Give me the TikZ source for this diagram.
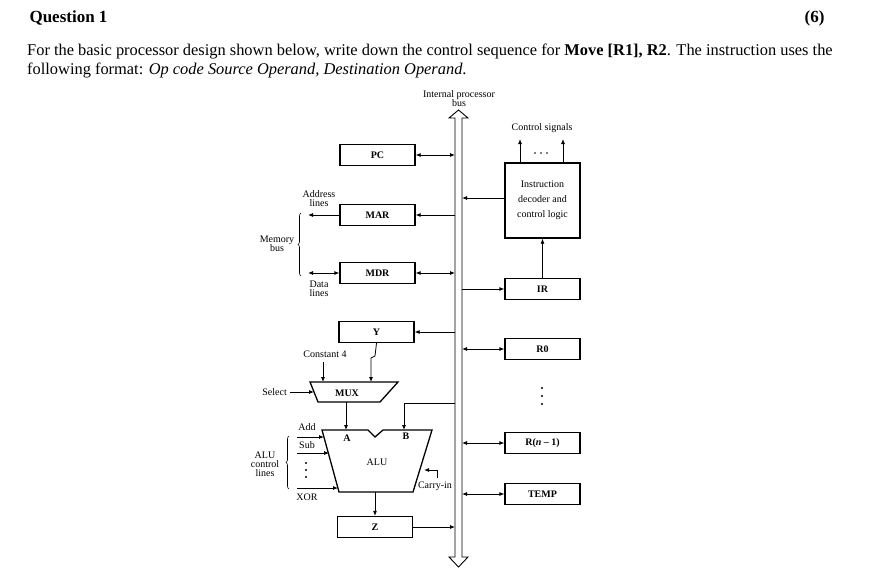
\documentclass[tikz,border=0pt]{standalone}
\usepackage{fontspec}
\setmainfont{Liberation Serif}
\usetikzlibrary{arrows.meta,decorations.pathreplacing}
\begin{document}
\begin{tikzpicture}[x=1pt,y=-1pt,
  reg/.style={draw,line width=1.3pt,minimum width=75pt,minimum height=21pt,inner sep=0pt,font=\fontsize{10}{11}\selectfont\bfseries},
  lbl/.style={font=\fontsize{10}{10}\selectfont,inner sep=0pt,align=center},
  ar/.style={-{Latex[length=5pt,width=4pt]},line width=0.8pt},
  dar/.style={{Latex[length=5pt,width=4pt]}-{Latex[length=5pt,width=4pt]},line width=0.8pt}]
\path[use as bounding box] (0,0) rectangle (873,573);
\node[anchor=west,font=\fontsize{17}{18}\selectfont\bfseries] (q) at (26,18) {Question 1};
\node[anchor=east,font=\fontsize{17}{18}\selectfont\bfseries] (pts) at (828,18) {(6)};
\node[anchor=west,font=\fontsize{16.4}{18}\selectfont,inner sep=0pt] (l1) at (27,51) {For the basic processor design shown below, write down the control sequence for \textbf{Move [R1], R2}. The instruction uses the};
\node[anchor=west,font=\fontsize{16.4}{18}\selectfont,inner sep=0pt] (l2) at (27,70) {following format: \textit{Op code Source Operand, Destination Operand}.};
% bus
\draw[line width=0.9pt] (455,118)--(449,118)--(458.5,110)--(468,118)--(462,118)--(462,557)--(468,557)--(458.5,567)--(449,557)--(455,557)--cycle;
\node[lbl] (busl) at (459,99) {Internal processor\\[-1pt]bus};
\coordinate (bl) at (455,0); \coordinate (br) at (462,0);
% left registers
\node[reg] (pc) at (377.5,155) {PC};
\node[reg] (mar) at (377.5,215) {MAR};
\node[reg] (mdr) at (377.5,273) {MDR};
\node[reg] (y) at (376.5,332) {Y};
\node[reg] (z) at (375,527) {Z};
\draw[dar] (pc.east) -- (bl|-pc.east);
\draw[ar] (bl|-mar.east) -- (mar.east);
\draw[dar] (mdr.east) -- (bl|-mdr.east);
\draw[ar] (bl|-y.east) -- (y.east);
\draw[ar] (z.east) -- (bl|-z.east);
\coordinate (addr) at (308,215); \coordinate (data) at (308,273);
\draw[ar] (mar.west) -- (addr);
\draw[dar] (mdr.west) -- (data);
\node[lbl] (addrl) at (319,199) {Address\\[-1pt]lines};
\node[lbl] (datal) at (319,289) {Data\\[-1pt]lines};
\draw[decorate,decoration={brace,amplitude=3pt},line width=0.6pt] (301,276) -- (301,213);
\node[lbl] (memb) at (277,244) {Memory\\[-1pt]bus};
% MUX
\draw[line width=1.3pt] (310,382)--(398,382)--(380,402)--(318,402)--cycle;
\node[lbl,font=\fontsize{10}{10}\selectfont\bfseries] (mux) at (347,393) {MUX};
\node[lbl] (c4) at (325,354) {Constant 4};
\draw[ar] (323,362) -- (323,382);
\draw[ar] (y.south) -- (375,356) -- (371,358) -- (371,382);
\coordinate (sel) at (290,392);
\node[lbl,anchor=east] (sell) at (287,392) {Select};
\draw[ar] (sel) -- (314,392);
% ALU
\draw[line width=1.3pt] (322,430)--(368,430)--(375,437)--(383,430)--(432,430)--(413,492)--(339,492)--cycle;
\node[lbl,font=\fontsize{10}{10}\selectfont\bfseries] (A) at (347,438) {A};
\node[lbl,font=\fontsize{10}{10}\selectfont\bfseries] (B) at (406,436) {B};
\node[lbl] (alu) at (377,462) {ALU};
\draw[ar] (346,402) -- (346,430);
\draw[ar] (bl|-0,403) -- (404,403) -- (404,430);
\draw[ar] (297,437) -- (324,437);
\draw[ar] (297,453) -- (329,453);
\draw[ar] (297,488) -- (338,488);
\node[lbl] (add) at (307,427) {Add};
\node[lbl] (sub) at (307,445) {Sub};
\node[lbl] (xor) at (307,497) {XOR};
\foreach \yy in {463,470,477} \fill (306,\yy) circle (1.1pt);
\draw[decorate,decoration={brace,amplitude=3pt},line width=0.6pt] (289,489) -- (289,436);
\node[lbl] (acl) at (265,464) {ALU\\[-1pt]control\\[-1pt]lines};
\draw[ar] (437,478) -- (437,470) -- (424,470);
\node[lbl] (cin) at (435,486) {Carry-in};
\draw[ar] (375,492) -- (z.north);
% right side
\node[draw,line width=1.3pt,minimum width=75pt,minimum height=75pt,inner sep=0pt,lbl] (dec) at (542.5,200.5) {Instruction\\[5pt]decoder and\\[5pt]control logic};
\node[lbl] (cs) at (542,128) {Control signals};
\draw[ar] (520,163) -- (520,139);
\draw[ar] (563,163) -- (563,139);
\foreach \xx in {535,541,547} \fill (\xx,153) circle (0.9pt);
\draw[ar] (dec.west|-0,198) -- (br|-0,198);
\node[reg] (ir) at (542.5,289) {IR};
\node[reg] (r0) at (542.5,349) {R0};
\node[reg] (rn) at (542.5,443) {R(\textit{n} -- 1)};
\node[reg] (temp) at (542.5,494) {TEMP};
\draw[ar] (ir.north) -- (dec.south);
\draw[ar] (br|-ir.west) -- (ir.west);
\draw[dar] (br|-r0.west) -- (r0.west);
\draw[dar] (br|-rn.west) -- (rn.west);
\draw[dar] (br|-temp.west) -- (temp.west);
\foreach \yy in {388,396,404} \fill (542,\yy) circle (1.2pt);
\end{tikzpicture}
\end{document}
